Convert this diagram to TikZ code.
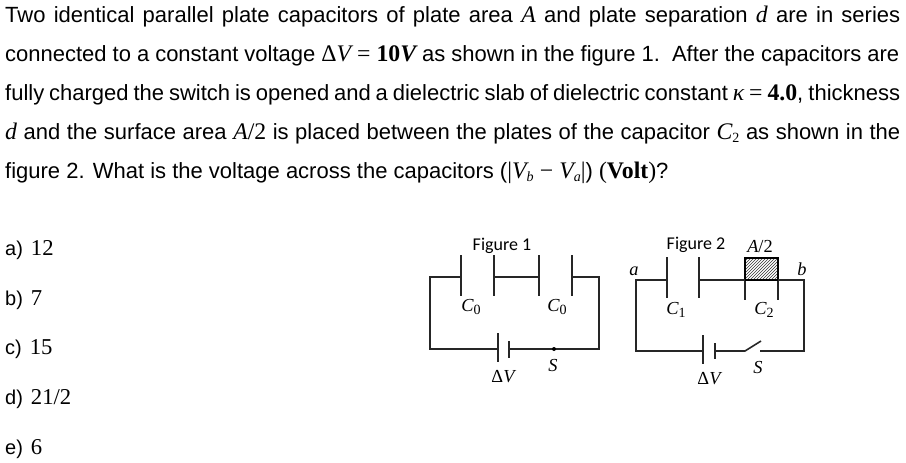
\documentclass[tikz,border=0pt]{standalone}
\usepackage{fontspec}
\setmainfont{Liberation Sans}
\newfontfamily\labelfont{Carlito}
\newfontfamily\mathfont[Scale=1.08]{Liberation Serif}
\usetikzlibrary{patterns}
\newcommand*{\mi}[1]{{\mathfont\itshape #1}}
\newcommand*{\mb}[1]{{\mathfont\bfseries #1}}
\newcommand*{\mr}[1]{{\mathfont\fontsize{21}{22}\selectfont #1}}
\newcommand*{\subs}[1]{\raisebox{-3pt}{\fontsize{13}{13}\selectfont\mathfont #1}}
\tikzset{%
  textline/.style={anchor=base west, inner sep=0, font=\fontsize{22}{24}\selectfont},
  answer/.style={anchor=base west, inner sep=0, font=\fontsize{20}{22}\selectfont},
  figlabel/.style={inner sep=0, font=\fontsize{18}{20}\selectfont\labelfont},
  circlabel/.style={inner sep=0, font=\fontsize{17}{19}\selectfont\mathfont\itshape},
  wire/.style={draw, line width=1.6pt, black!85},
  plate/.style={fill=black!85, inner sep=0, minimum width=1.7pt},
  slab/.style={draw, line width=2pt, pattern=north east lines, pattern color=black!80}
}
\begin{document}
\begin{tikzpicture}[x=1pt, y=-1pt]
\useasboundingbox (0,0) rectangle (906,463);

% question text
\node[textline] (l1) at (5,23) {\makebox[895pt][s]{Two identical parallel plate capacitors of plate area \mi{A} and plate separation \mi{d} are in series}};
\node[textline] (l2) at (5,61) {\makebox[894pt][s]{connected to a constant voltage {\mathfont Δ\itshape V} {\mathfont =} \mb{10}{\mathfont\bfseries\itshape V} as shown in the figure 1.\ \ After the capacitors are}};
\node[textline] (l3) at (5,100) {\makebox[895pt][s]{fully charged the switch is opened and a dielectric slab of dielectric constant \mi{κ} {\mathfont =} \mb{4.0}, thickness}};
\node[textline] (l4) at (5,139) {\makebox[895pt][s]{\mi{d} and the surface area \mi{A}{\mathfont /2} is placed between the plates of the capacitor \mi{C}\subs{2} as shown in the}};
\node[textline] (l5) at (5,178) {figure 2. What is the voltage across the capacitors ({\mathfont |}\mi{V}\subs{\itshape b} {\mathfont −} \mi{V}\subs{\itshape a}{\mathfont |}) {\mathfont(\bfseries Volt\mdseries)}?};

% answers
\node[answer] (ansa) at (5,255) {a)\hspace{8pt}\mr{12}};
\node[answer] (ansb) at (5,305) {b)\hspace{8pt}\mr{7}};
\node[answer] (ansc) at (5,354) {c)\hspace{8pt}\mr{15}};
\node[answer] (ansd) at (5,404) {d)\hspace{8pt}\mr{21/2}};
\node[answer] (anse) at (5,454) {e)\hspace{8pt}\mr{6}};

% figure 1
\node[figlabel] (fig1) at (502,246) {Figure 1};
\node[plate, minimum height=41pt] (p1) at (461,275.5) {};
\node[plate, minimum height=41pt] (p2) at (494,275.5) {};
\node[plate, minimum height=41pt] (p3) at (539,275.5) {};
\node[plate, minimum height=41pt] (p4) at (572,275.5) {};
\node[plate, minimum height=29pt] (batl) at (498,347.5) {};
\node[plate, minimum height=17pt] (bats) at (509,349.5) {};
\coordinate (tl) at (430,277);
\coordinate (tr) at (599,277);
\coordinate (bl) at (430,349);
\coordinate (br) at (599,349);
\draw[wire] (p1 |- tl) -- (tl) -- (bl) -- (batl |- bl);
\draw[wire] (p2 |- tl) -- (p3 |- tl);
\draw[wire] (p4 |- tr) -- (tr) -- (br) -- (bats |- br);
\node[circle, fill=black, inner sep=0, minimum size=4pt] (s1) at (554,349) {};
\node[circlabel] (c01) at (471,307) {C\subs{\upshape 0}};
\node[circlabel] (c02) at (557,307) {C\subs{\upshape 0}};
\node[circlabel] (dv1) at (503,377) {{\upshape Δ}V};
\node[circlabel] (sw1) at (553,366) {S};

% figure 2
\node[figlabel] (fig2) at (696,245) {Figure 2};
\node[circlabel] (area) at (760,247) {A{\upshape /2}};
\node[plate, minimum height=41pt] (q1) at (667,277.5) {};
\node[plate, minimum height=41pt] (q2) at (699,277.5) {};
\node[plate, minimum height=42pt] (q3) at (745,279) {};
\node[plate, minimum height=42pt] (q4) at (778,279) {};
\node[plate, minimum height=29pt] (batL) at (703,349.5) {};
\node[plate, minimum height=16pt] (batS) at (715,351) {};
\coordinate (Tl) at (636,280);
\coordinate (Tr) at (804,280);
\coordinate (Bl) at (636,351);
\coordinate (Br) at (804,351);
\coordinate (hinge) at (745,351);
\coordinate (blade) at (761,341);
\coordinate (contact) at (760,351);
\draw[slab] (745,258) rectangle (778,280);
\draw[wire] (q1 |- Tl) -- (Tl) -- (Bl) -- (batL |- Bl);
\draw[wire] (q2 |- Tl) -- (q3 |- Tl);
\draw[wire] (q4 |- Tr) -- (Tr) -- (Br) -- (contact);
\draw[wire] (batS |- Bl) -- (hinge) -- (blade);
\node[circlabel] (pa) at (634,271) {a};
\node[circlabel] (pb) at (802,269) {b};
\node[circlabel] (c1) at (676,310) {C\subs{\upshape 1}};
\node[circlabel] (c2) at (764,310) {C\subs{\upshape 2}};
\node[circlabel] (dv2) at (709,379) {{\upshape Δ}V};
\node[circlabel] (sw2) at (758,368) {S};
\end{tikzpicture}
\end{document}
